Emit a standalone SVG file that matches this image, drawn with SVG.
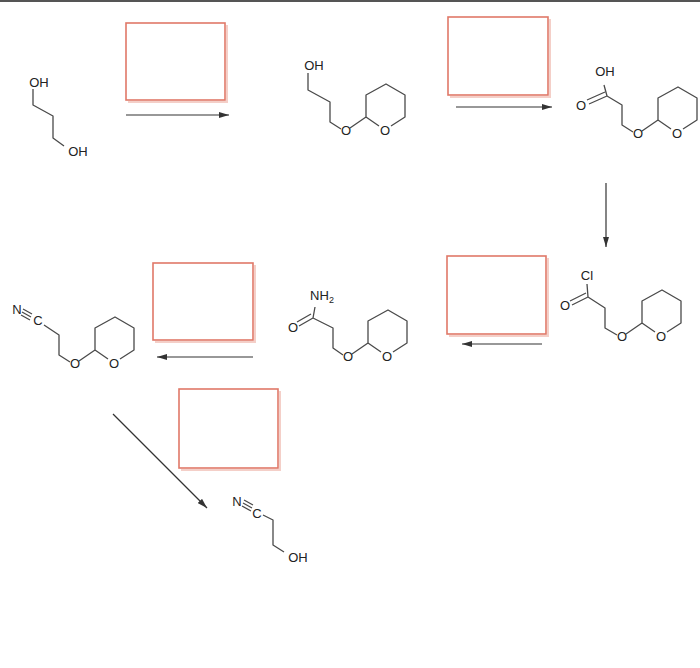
<svg xmlns="http://www.w3.org/2000/svg" width="700" height="668" viewBox="0 0 700 668">
<defs>
<style>
.b{fill:none;stroke:#4a4a4a;stroke-width:1.3;stroke-linejoin:round}
.t{font-family:"Liberation Sans",Arial,sans-serif;font-size:13px;fill:#222;text-anchor:middle}
.s{font-size:9px}
.box{fill:#fff;stroke:#e07868;stroke-width:1.6}
.sh{fill:none;stroke:#f4cfc8;stroke-width:2}
.a{stroke:#333;stroke-width:1.2;fill:none;marker-end:url(#ah)}
</style>
<marker id="ah" viewBox="0 0 10 6" refX="10" refY="3" markerWidth="10" markerHeight="6" markerUnits="userSpaceOnUse" orient="auto"><path d="M0,0L10,3L0,6z" fill="#333"/></marker>
<g id="thp"><path class="b" d="M4,-2L20,-13L20,-35L40,-46L59,-35L59,-13L45,-4M33,-4L20,-13"/><text class="t" x="39" y="5">O</text><text class="t" x="0" y="5">O</text></g>
</defs>
<rect width="700" height="668" fill="#fff"/>
<rect x="0" y="0" width="700" height="2" fill="#555"/>
<g id="boxes">
<g id="box1"><path class="sh" d="M227,25V102H128"/><rect class="box" x="126" y="23" width="99" height="77"/></g>
<g id="box2"><path class="sh" d="M550,19V97H450"/><rect class="box" x="448" y="17" width="100" height="78"/></g>
<g id="box3"><path class="sh" d="M255,265V342H155"/><rect class="box" x="153" y="263" width="100" height="77"/></g>
<g id="box4"><path class="sh" d="M548,258V336H449"/><rect class="box" x="447" y="256" width="99" height="78"/></g>
<g id="box5"><path class="sh" d="M280,391V470H181"/><rect class="box" x="179" y="389" width="99" height="79"/></g>
</g>
<g id="connectors">
<line class="a" x1="126" y1="115" x2="229" y2="115"/>
<line class="a" x1="456" y1="107" x2="552" y2="107"/>
<line class="a" x1="606" y1="183" x2="606" y2="247"/>
<line class="a" x1="542" y1="344" x2="462" y2="344"/>
<line class="a" x1="253" y1="357" x2="157" y2="357"/>
<line class="a" x1="113" y1="414" x2="207" y2="508"/>
</g>
<g id="mol1">
<path class="b" d="M33,89L33,105L53,116L53,138L64,146"/>
<text class="t" x="39" y="87">OH</text>
<text class="t" x="78" y="156">OH</text>
</g>
<g id="mol2">
<use href="#thp" x="346" y="130"/>
<path class="b" d="M341,129L330,122L330,102L308,90L308,73"/>
<text class="t" x="314" y="70">OH</text>
</g>
<g id="mol3">
<use href="#thp" x="638" y="133"/>
<path class="b" d="M633,132L622,125L622,105L607,96L604,85M607,96L589,104M605,92L587,100"/>
<text class="t" x="605" y="76">OH</text>
<text class="t" x="581" y="110">O</text>
</g>
<g id="mol4">
<use href="#thp" x="622" y="336"/>
<path class="b" d="M617,335L605,328L605,308L588,297L587,284M588,297L572,305M586,293L570,301"/>
<text class="t" x="587" y="280">Cl</text>
<text class="t" x="565" y="310">O</text>
</g>
<g id="mol5">
<use href="#thp" x="348" y="356"/>
<path class="b" d="M343,355L333,348L333,328L313,318L315,307M313,318L299,326M311,314L297,322"/>
<text class="t" x="322" y="300">NH<tspan class="s" dy="3">2</tspan></text>
<text class="t" x="293" y="332">O</text>
</g>
<g id="mol6">
<use href="#thp" x="75" y="363"/>
<path class="b" d="M70,362L59,355L59,335L44,325M22,312L31,317M23,309L32,314M21,315L30,320"/>
<text class="t" x="17" y="314">N</text>
<text class="t" x="38" y="325">C</text>
</g>
<g id="mol7">
<path class="b" d="M263,515L273,520L273,545L284,552M243,503L252,508M244,500L253,505M242,506L251,511"/>
<text class="t" x="237" y="506">N</text>
<text class="t" x="257" y="518">C</text>
<text class="t" x="298" y="562">OH</text>
</g>
</svg>
